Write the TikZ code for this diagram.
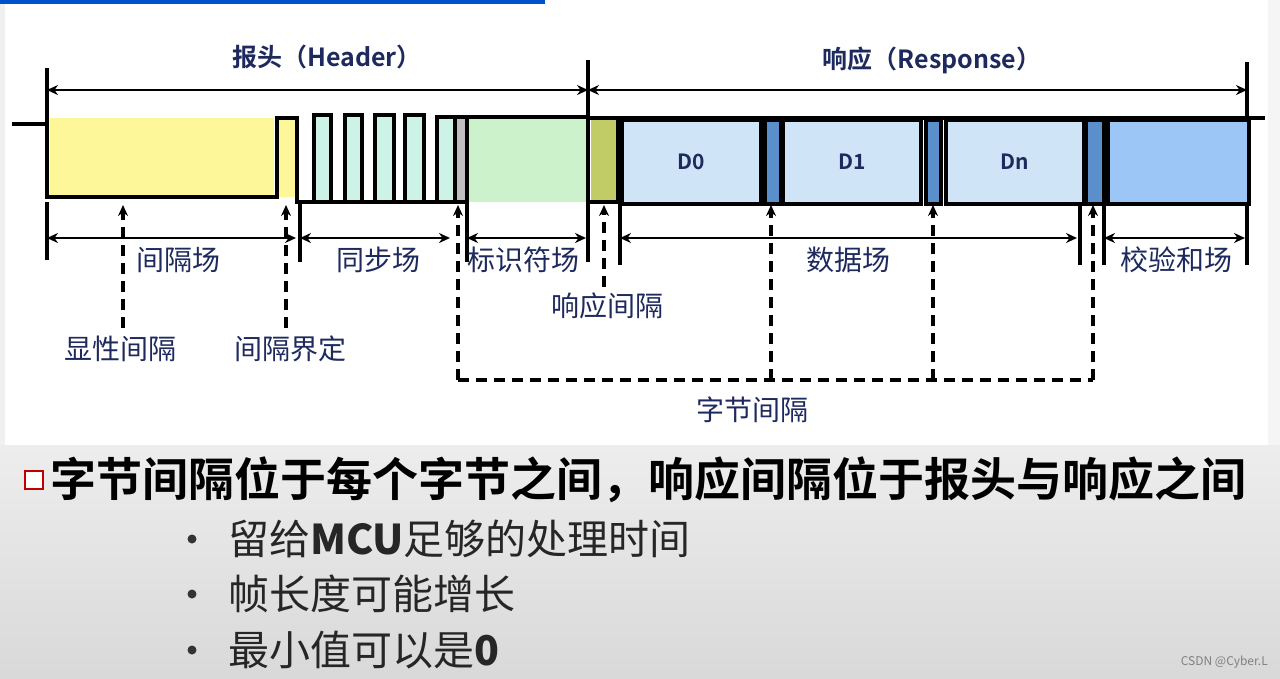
\documentclass[tikz,border=0pt]{standalone}
\usepackage{fontspec}
\setmainfont{Noto Sans CJK SC}
\newfontfamily\cjk{Noto Sans CJK SC}
\newfontfamily\cjkb{Noto Sans CJK SC Bold}
\usetikzlibrary{arrows.meta}
\definecolor{navy}{HTML}{1E2A5E}
\definecolor{cyel}{HTML}{FDF79A}
\definecolor{csync}{HTML}{CDF3E8}
\definecolor{cid}{HTML}{CCF2CC}
\definecolor{colive}{HTML}{C2CC66}
\definecolor{cdat}{HTML}{CFE5F7}
\definecolor{cdark}{HTML}{5B8FCC}
\definecolor{cchk}{HTML}{9CC6F5}
\begin{document}
\begin{tikzpicture}[x=1pt,y=-1pt,
  sig/.style={line width=3.6pt,line join=miter},
  dim/.style={line width=2.8pt,{Stealth[length=11pt,width=10pt]}-{Stealth[length=11pt,width=10pt]}},
  tick/.style={line width=3.6pt},
  dsh/.style={line width=3.4pt,dash pattern=on 11pt off 7pt},
  upa/.style={dsh,-{Stealth[length=11pt,width=10pt]}},
  lab/.style={font=\cjk\fontsize{28}{28}\selectfont,text=navy,inner sep=0pt},
  hdr/.style={font=\cjkb\fontsize{25}{25}\selectfont,text=navy,inner sep=0pt},
  box/.style={draw=black,line width=3.6pt}]
\useasboundingbox (0,0) rectangle (1280,678);
\fill[white] (0,0) rectangle (1280,445);
\shade[top color=white!93!black,bottom color=white!85!black] (0,445) rectangle (1280,678);
\fill[white!94!black] (0,0) rectangle (5,445);
\fill[white!96!black] (1268,0) rectangle (1280,445);
\fill[blue!60!cyan!80!black] (0,0) rectangle (545,4);
% fills
\fill[cyel] (50,118) rectangle (274,197);
\fill[cyel] (279,120) rectangle (296,197);
\foreach \a/\b in {314/331,345/362,375/394,405/424,437/455}{
  \fill[csync] (\a,115) rectangle (\b,202);}
\fill[gray!50] (455,117) rectangle (467,202);
\fill[cid] (467,117) rectangle (588,202);
\fill[colive] (591,118) rectangle (618,202);
\node[box,fill=cdat,minimum width=139pt,minimum height=84pt,anchor=north west,text=navy,font=\cjkb\fontsize{21}{21}\selectfont] (d0) at (620,118) {D0};
\node[box,fill=cdat,minimum width=138pt,minimum height=84pt,anchor=north west,text=navy,font=\cjkb\fontsize{21}{21}\selectfont] (d1) at (781,118) {D1};
\node[box,fill=cdat,minimum width=138pt,minimum height=84pt,anchor=north west,text=navy,font=\cjkb\fontsize{21}{21}\selectfont] (dn) at (944,118) {Dn};
\node[box,fill=cdark,minimum width=16pt,minimum height=84pt,anchor=north west] (s1) at (763,118) {};
\node[box,fill=cdark,minimum width=15pt,minimum height=84pt,anchor=north west] (s2) at (924,118) {};
\node[box,fill=cdark,minimum width=18pt,minimum height=84pt,anchor=north west] (s3) at (1084,118) {};
\node[box,fill=cchk,minimum width=141pt,minimum height=84pt,anchor=north west] (chk) at (1106,118) {};
% signal
\draw[sig] (12,124) -- (47,124);
\draw[sig] (47,124) -- (47,197) -- (277,197) -- (277,118) -- (297,118) -- (297,202) -- (467,202);
\foreach \a/\b in {314/331,345/362,375/394,405/424}{
  \draw[sig] (\a,202) -- (\a,115) -- (\b,115) -- (\b,202);}
\draw[sig] (437,202) -- (437,117) -- (588,117);
\draw[sig] (455,117) -- (455,202);
\draw[sig] (467,117) -- (467,202);
\draw[sig] (588,118) rectangle (618,202);
\draw[sig] (588,202) -- (620,202);
\draw[sig] (588,118) -- (1265,118);
% top dimension
\draw[tick] (47,68) -- (47,124);
\draw[tick] (588,60) -- (588,118);
\draw[tick] (1247,62) -- (1247,118);
\coordinate (h1) at (47,90); \coordinate (h2) at (588,90); \coordinate (h3) at (1247,90);
\draw[dim] (h1) -- (h2);
\draw[dim] (h2) -- (h3);
\node[hdr] (th) at (327,57) {报头（Header）};
\node[hdr] (tr) at (932,60) {响应（Response）};
% bottom ticks
\foreach \x/\e in {47/260,300/262,467/262,588/262,620/265,1080/265,1104/265,1247/265}{
  \draw[tick] (\x,202) -- (\x,\e);}
\draw[dim] (47,238) -- (296,238);
\draw[dim] (300,238) -- (450,238);
\draw[dim] (467,238) -- (586,238);
\draw[dim] (620,238) -- (1077,238);
\draw[dim] (1104,238) -- (1245,238);
% dashed
\draw[upa] (123,328) -- (123,205);
\draw[upa] (286,328) -- (286,205);
\draw[upa] (604,287) -- (604,205);
\draw[dsh] (458,380) -- (1093,380);
\foreach \x in {458,771,933,1093}{\draw[upa] (\x,380) -- (\x,205);}
% labels
\node[lab] (l1) at (178,260) {间隔场};
\node[lab] (l2) at (378,260) {同步场};
\node[lab] (l3) at (523,260) {标识符场};
\node[lab] (l4) at (848,260) {数据场};
\node[lab] (l5) at (1176,260) {校验和场};
\node[lab] (l6) at (607,306) {响应间隔};
\node[lab] (l7) at (120,349) {显性间隔};
\node[lab] (l8) at (290,349) {间隔界定};
\node[lab] (l9) at (752,410) {字节间隔};
% bottom text
\draw[red!75!black,line width=2.4pt,fill=white] (25,471) rectangle (43,489);
\node[anchor=west,inner sep=0pt,font=\cjkb\fontsize{46}{46}\selectfont] (m) at (50,480) {字节间隔位于每个字节之间，响应间隔位于报头与响应之间};
\foreach \y/\t in {539/{留给\textbf{\cjkb MCU}足够的处理时间},594/{帧长度可能增长},650/{最小值可以是\textbf{\cjkb 0}}}{
  \fill[black!80] (192,\y) circle (4.5pt);
  \node[anchor=west,inner sep=0pt,font=\cjk\fontsize{41}{41}\selectfont,text=black!85] at (228,\y) {\t};}
\node[anchor=east,inner sep=0pt,font=\cjk\fontsize{12}{12}\selectfont,text=gray] (wm) at (1268,662) {CSDN @Cyber.L};
\end{tikzpicture}
\end{document}
